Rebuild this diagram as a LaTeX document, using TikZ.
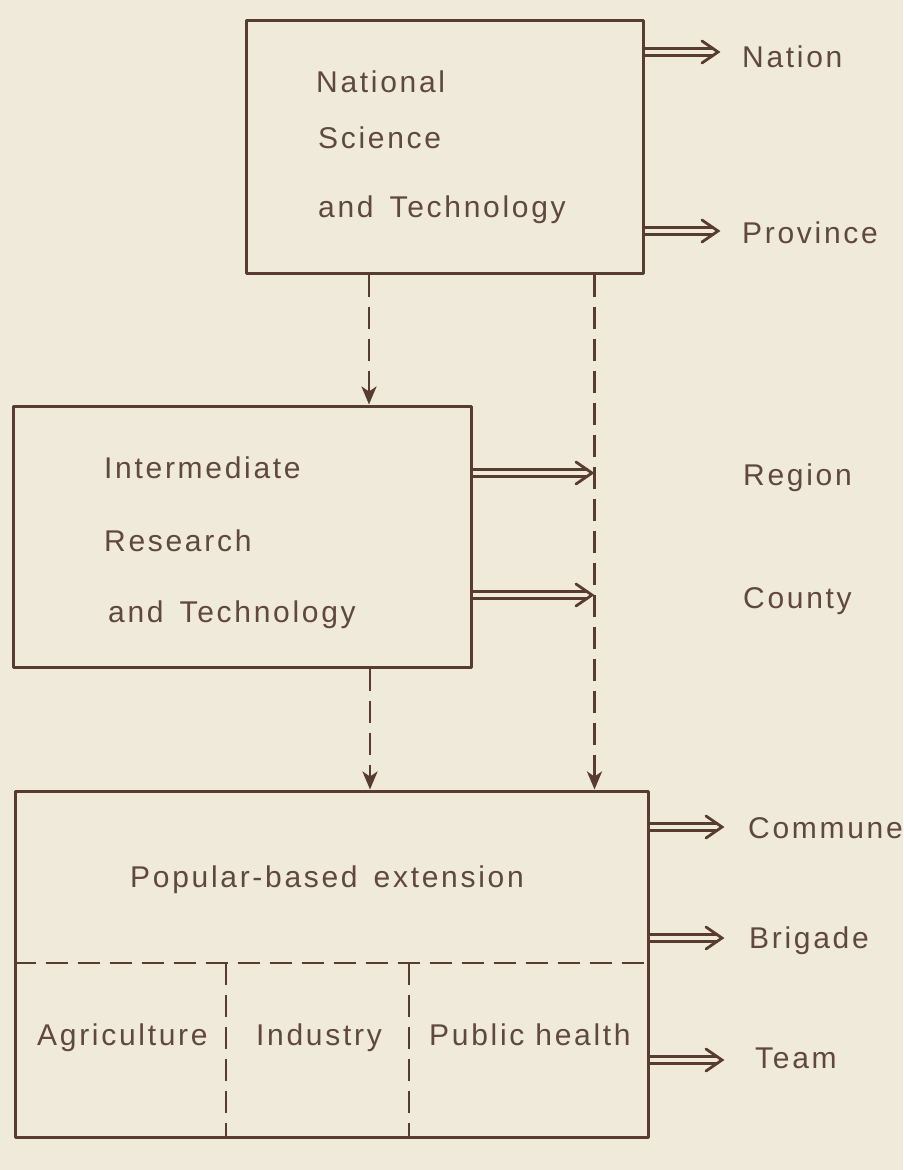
\documentclass[tikz,border=0pt]{standalone}
\usepackage{fontspec}
\setmainfont{Liberation Sans}[LetterSpace=9]
\usetikzlibrary{arrows.meta}
\definecolor{ink}{RGB}{88,60,50}
\definecolor{txt}{RGB}{96,72,62}
\definecolor{paper}{RGB}{240,234,219}
\tikzset{
  boxnode/.style={draw=ink, line width=3pt, rectangle, inner sep=0pt, line join=round},
  lbl/.style={anchor=base west, inner sep=0pt, text=txt, font=\fontsize{30}{36}\selectfont},
  dasharrow/.style={draw=ink, line width=2.8pt, dash pattern=on 22pt off 10pt,
     -{Stealth[length=18pt,width=15pt,inset=5pt]}},
  dashdiv/.style={draw=ink, line width=2.6pt, dash pattern=on 22pt off 10pt},
  dblline/.style={draw=ink, line width=2.8pt, double=paper, double distance=4.5pt},
  chev/.style={draw=ink, line width=2.8pt, line join=miter, line cap=round},
}
\newcommand\levelarrow[2]{%
  \draw[dblline] (#1) -- ([xshift=-4pt]#2);
  \draw[chev] ([shift={(-16,-11)}]#2) -- (#2) -- ([shift={(-16,11)}]#2);
}
\begin{document}
\begin{tikzpicture}[x=1pt,y=-1pt]
\useasboundingbox[fill=paper] (0,0) rectangle (903,1170);

% boxes
\node[boxnode, minimum width=397pt, minimum height=253pt] (top) at (444.5,146.5) {};
\node[boxnode, minimum width=458pt, minimum height=261pt] (mid) at (242,536.5) {};
\node[boxnode, minimum width=633pt, minimum height=346pt] (bot) at (331.5,964) {};

% x-guide coordinates
\coordinate (xa) at (369,0);
\coordinate (xb) at (594.5,0);
\coordinate (xc) at (370,0);
\coordinate (xd1) at (226,0);
\coordinate (xd2) at (409,0);
\coordinate (yh) at (0,963);

% box texts
\node[lbl] (t1) at (316,92) {National};
\node[lbl] (t2) at (318,148) {Science};
\node[lbl] (t3) at (318,217) {and\, Technology};
\node[lbl] (m1) at (104,478) {Intermediate};
\node[lbl] (m2) at (104,551) {Research};
\node[lbl] (m3) at (108,622) {and\, Technology};
\node[lbl] (b1) at (130,887) {Popular-based\, extension};
\node[lbl] (b2) at (37,1045) {Agriculture};
\node[lbl] (b3) at (256,1045) {Industry};
\node[lbl] (b4) at (429,1045) {Public health};

% dividers in bottom box
\coordinate (hl) at (bot.west |- yh);
\coordinate (hr) at (bot.east |- yh);
\draw[dashdiv] (hl) -- (hr);
\coordinate (v1t) at (xd1 |- yh);
\coordinate (v2t) at (xd2 |- yh);
\draw[dashdiv] (v1t) -- (xd1 |- bot.south);
\draw[dashdiv] (v2t) -- (xd2 |- bot.south);

% dashed flows
\draw[dasharrow] (xa |- top.south) -- (xa |- mid.north);
\draw[dasharrow] (xb |- top.south) -- (xb |- bot.north);
\draw[dasharrow] (xc |- mid.south) -- (xc |- bot.north);

% level labels
\node[lbl] (nation) at (742,67) {Nation};
\node[lbl] (province) at (742,243) {Province};
\node[lbl] (region) at (743,485) {Region};
\node[lbl] (county) at (743,608) {County};
\node[lbl] (commune) at (748,838) {Commune};
\node[lbl] (brigade) at (749,948) {Brigade};
\node[lbl] (team) at (755,1068) {Team};

% double arrows
\coordinate (e1) at (718,52);
\coordinate (e2) at (718,231);
\coordinate (e3) at (592,473);
\coordinate (e4) at (592,595);
\coordinate (e5) at (722,827);
\coordinate (e6) at (722,938);
\coordinate (e7) at (722,1060);
\levelarrow{top.east |- e1}{e1}
\levelarrow{top.east |- e2}{e2}
\levelarrow{mid.east |- e3}{e3}
\levelarrow{mid.east |- e4}{e4}
\levelarrow{bot.east |- e5}{e5}
\levelarrow{bot.east |- e6}{e6}
\levelarrow{bot.east |- e7}{e7}
\end{tikzpicture}
\end{document}
